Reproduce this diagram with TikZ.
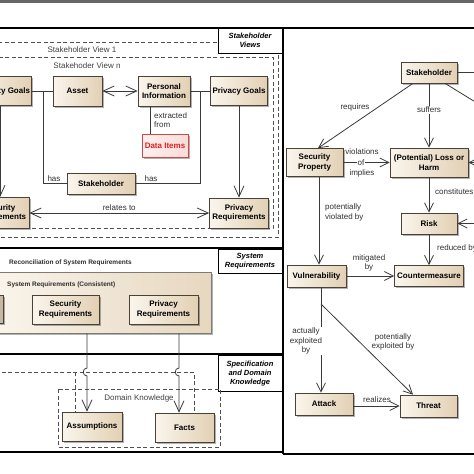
\documentclass[tikz,border=0pt]{standalone}
\usepackage{fontspec}
\setmainfont{Liberation Sans}
\usetikzlibrary{arrows.meta,shadows,calc}
\definecolor{boxL}{HTML}{FAF5EC}
\definecolor{boxR}{HTML}{E2D0B4}
\definecolor{boxB}{HTML}{4A4236}
\definecolor{lnC}{HTML}{3A3A3A}
\definecolor{dashC}{HTML}{505050}
\definecolor{redT}{HTML}{E02020}
\definecolor{redB}{HTML}{D04848}
\definecolor{redF}{HTML}{FDF0EE}
\definecolor{redF2}{HTML}{F8DCD8}
\definecolor{txtC}{HTML}{303030}
\tikzset{
  ebox/.style={draw=boxB, line width=0.7pt, left color=boxL, right color=boxR,
    font=\fontsize{8}{9.5}\selectfont\bfseries, align=center, inner sep=1pt,
    drop shadow={shadow xshift=1.6pt, shadow yshift=-1.6pt, fill=black, opacity=0.3}},
  redbox/.style={ebox, draw=redB, left color=redF, right color=redF2, text=redT},
  bigbox/.style={draw=boxB!70, line width=0.6pt, left color=boxL, right color=boxR!85,
    drop shadow={shadow xshift=2pt, shadow yshift=-2pt, fill=black, opacity=0.3}},
  tabbox/.style={draw=black, line width=0.6pt, fill=white, align=center, inner sep=1pt,
    font=\fontsize{7.5}{8.6}\selectfont\bfseries\itshape},
  frame/.style={draw=black, line width=1.4pt},
  dashline/.style={draw=dashC, line width=0.7pt, dash pattern=on 4pt off 2.5pt},
  conn/.style={draw=lnC, line width=0.8pt},
  arr/.style={conn, -{Straight Barb[length=9pt,width=9pt]}},
  darr/.style={conn, {Straight Barb[length=11pt,width=10pt]}-{Straight Barb[length=11pt,width=10pt]}},
  arrL/.style={conn, -{Straight Barb[length=11pt,width=10pt]}},
  lbl/.style={font=\fontsize{8}{9.4}\selectfont, text=txtC, align=center, inner sep=1pt},
  smallbold/.style={font=\fontsize{6.5}{7.5}\selectfont\bfseries, text=txtC, inner sep=0pt}
}
\begin{document}
\begin{tikzpicture}[x=1pt,y=-1pt]
\useasboundingbox (0,0) rectangle (474,474);
\clip (0,0) rectangle (474,474);
\fill[white] (0,0) rectangle (474,474);
\fill[black!60] (0,0) rectangle (474,2.5);

% ---------- frames ----------
\draw[frame] (0,28) -- (474,28);
\draw[frame] (283,28) -- (283,454);
\draw[frame] (0,248) -- (283,248);
\draw[frame] (0,354) -- (283,354);
\draw[frame] (0,452) -- (283,452);
\draw[frame] (283,454) -- (474,454);

% ---------- stakeholder views ----------
\draw[dashline] (-5,42) rectangle (278,237);
\draw[dashline] (-5,57) rectangle (273,228);
\node[lbl, text=black!75] (v1) at (82,50) {Stakeholder View 1};
\node[lbl, text=black!75] (vn) at (87,66) {Stakehoder View n};
\node[tabbox, minimum width=64pt, minimum height=25pt] (tab1) at (250,40.5) {Stakeholder\\Views};

\node[ebox, minimum width=59pt, minimum height=29pt] (sg) at (2,91) {Security Goals};
\node[ebox, minimum width=49pt, minimum height=30pt] (asset) at (77.5,91) {Asset};
\node[ebox, minimum width=52pt, minimum height=30pt] (pi) at (164,91) {Personal\\Information};
\node[ebox, minimum width=57pt, minimum height=29pt] (pg) at (239,91) {Privacy Goals};
\node[redbox, minimum width=46pt, minimum height=23pt] (di) at (165,145.5) {Data Items};
\node[ebox, minimum width=68pt, minimum height=21pt] (stk1) at (101,183.5) {Stakeholder};
\node[ebox, minimum width=59pt, minimum height=31pt] (sreq) at (-0.5,213) {Security\\Requirements};
\node[ebox, minimum width=59pt, minimum height=30pt] (preq) at (239,213) {Privacy\\Requirements};

\coordinate (x0) at (0,0);
\coordinate (xpi) at (150,0);
\coordinate (jL) at (43,91);
\coordinate (jR) at (200,91);
\draw[conn] (sg.east) -- (asset.west);
\draw[darr] (asset.east) -- (pi.west);
\draw[conn] (pi.east) -- (pg.west);
\draw[conn] (pi.south -| xpi) -- (di.north -| xpi);
\node[lbl, anchor=west, align=left] (ef) at (153,120) {extracted\\from};
\draw[conn] (stk1.west) -| (jL);
\draw[conn] (stk1.east) -| (jR);
\node[lbl] (has1) at (54,179) {has};
\node[lbl] (has2) at (151,179) {has};
\draw[arrL] (pg.south) -- (preq.north);
\draw[arrL] (sg.south -| x0) -- (sreq.north -| x0);
\draw[darr] (sreq.east) -- (preq.west) node[midway, above=1.5pt, lbl] {relates to};

% ---------- system requirements ----------
\node[tabbox, minimum width=64pt, minimum height=24pt] (tab2) at (250,261) {System\\Requirements};
\node[smallbold, anchor=west] (rec) at (9,263) {Reconciliation of System Requirements};
\node[bigbox, minimum width=221pt, minimum height=61pt] (sysbox) at (100.5,302.5) {};
\node[smallbold, anchor=west] (consist) at (7,285) {System Requirements (Consistent)};
\node[ebox, left color=boxR!80!gray, right color=boxR!70!gray, minimum width=46pt, minimum height=28pt] (gbox) at (-20,309) {};
\node[ebox, minimum width=67pt, minimum height=29pt] (sreq2) at (65.5,309.5) {Security\\Requirements};
\node[ebox, minimum width=69pt, minimum height=29pt] (preq2) at (163.5,309.5) {Privacy\\Requirements};

% ---------- specification and domain knowledge ----------
\node[tabbox, minimum width=64pt, minimum height=36pt] (tab3) at (250,373.5) {Specification\\and Domain\\Knowledge};
\draw[dashline] (-5,372) -- (194,372) -- (194,430);
\draw[dashline] (75,372) -- (75,430);
\draw[dashline] (58,389) rectangle (220,447);
\node[lbl, text=black!75] (dk) at (139,398) {Domain Knowledge};
\node[ebox, minimum width=60pt, minimum height=29pt] (asm) at (92,426.5) {Assumptions};
\node[ebox, minimum width=59pt, minimum height=29pt] (facts) at (184.5,427.5) {Facts};

\coordinate (h1) at (87,372);
\coordinate (h2) at (179,372);
\draw[arrL] (sysbox.south -| h1) -- ($(h1)+(0,-4)$) .. controls ($(h1)+(-5,-4)$) and ($(h1)+(-5,4)$) .. ($(h1)+(0,4)$) -- (asm.north -| h1);
\draw[arrL] (sysbox.south -| h2) -- ($(h2)+(0,-4)$) .. controls ($(h2)+(-5,-4)$) and ($(h2)+(-5,4)$) .. ($(h2)+(0,4)$) -- (facts.north -| h2);

% ---------- right panel ----------
\node[ebox, minimum width=56pt, minimum height=21pt] (stk2) at (429,72.5) {Stakeholder};
\node[ebox, minimum width=57pt, minimum height=28pt] (sp) at (314.5,162.5) {Security\\Property};
\node[ebox, minimum width=78pt, minimum height=29pt] (loss) at (429,162.5) {(Potential) Loss or\\Harm};
\node[ebox, minimum width=56pt, minimum height=21pt] (risk) at (429,223.5) {Risk};
\node[ebox, minimum width=59pt, minimum height=22pt] (vul) at (316.5,276) {Vulnerability};
\node[ebox, minimum width=69pt, minimum height=21pt] (cm) at (429,276) {Countermeasure};
\node[ebox, minimum width=58pt, minimum height=22pt] (att) at (324,404) {Attack};
\node[ebox, minimum width=57pt, minimum height=22pt] (thr) at (428.5,406) {Threat};

\coordinate (xa) at (413,0);
\coordinate (xb) at (318,0);
\coordinate (xc) at (319,0);
\coordinate (xd) at (321,0);
\coordinate (xt) at (413,0);
\coordinate (xs) at (445,0);
\coordinate (br) at (321,304);
\coordinate (eR1) at (490,72.5);
\coordinate (eR2) at (490,111);
\coordinate (eR3) at (490,162.5);
\coordinate (eR4) at (490,223.5);

\draw[arr] (stk2.south -| xa) -- (sp.north -| xb);
\node[lbl] (lreq) at (355,107) {requires};
\draw[arr] (stk2.south) -- (loss.north);
\node[lbl, fill=white] (lsuf) at (429,110) {suffers};
\draw[arr] (sp.east) -- (loss.west);
\node[lbl, fill=white, inner sep=0.8pt] (lof) at (361,162.5) {of};
\node[lbl] (lvio) at (362,151.5) {violations};
\node[lbl] (limp) at (362,173.5) {implies};
\draw[arr] (loss.south) -- (risk.north);
\node[lbl, anchor=west] (lcon) at (434,192) {constitutes};
\draw[arr] (risk.south) -- (cm.north);
\node[lbl, anchor=west] (lred) at (436,248) {reduced by};
\draw[arr] (sp.south -| xc) -- (vul.north -| xc);
\node[lbl, anchor=west, align=left] (lpv) at (324,212.5) {potentially\\violated by};
\draw[arr] (vul.east) -- (cm.west);
\node[lbl] (lmit) at (369,263) {mitigated\\by};
\draw[arr] (vul.south -| xd) -- (att.north -| xd);
\node[lbl, fill=white] (lact) at (306,341) {actually\\exploited\\by};
\draw[arr] (br) -- (thr.north -| xt);
\node[lbl] (lpe) at (393,342) {potentially\\exploited by};
\draw[arr] (att.east |- thr.west) -- (thr.west);
\node[lbl] (lrea) at (377,399.5) {realizes};
\draw[conn] (stk2.east) -- (eR1);
\draw[conn] (stk2.south -| xs) -- (eR2);
\draw[arr] (eR3) -- (loss.east);
\draw[arr] (eR4) -- (risk.east);
\end{tikzpicture}
\end{document}
